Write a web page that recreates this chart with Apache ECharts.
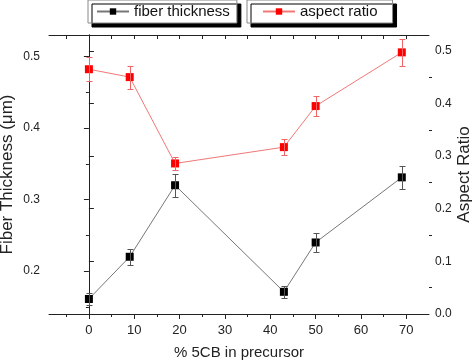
<!DOCTYPE html>
<html>
<head>
<meta charset="utf-8">
<script src="https://cdn.jsdelivr.net/npm/echarts@6/dist/echarts.min.js"></script>
<style>html,body{margin:0;padding:0;background:#fff;}#c{width:474px;height:361px;}</style>
</head>
<body>
<div id="c"></div>
<script>
const precursor = [0, 9, 19, 43, 50, 69];
const thickness = [0.161, 0.22, 0.32, 0.171, 0.24, 0.331];
const thicknessErr = [0.008, 0.011, 0.016, 0.008, 0.013, 0.016];
const aspect = [0.465, 0.45, 0.286, 0.317, 0.395, 0.497];
const aspectErr = [0.023, 0.022, 0.013, 0.015, 0.019, 0.025];
const xLabels = [0, 10, 20, 30, 40, 50, 60, 70];
const xMinor = [-5, 5, 15, 25, 35, 45, 55, 65];
const xTop = [-5, 0, 5, 10, 15, 20, 25, 30, 35, 40, 45, 50, 55, 60, 65, 70];
const leftLabels = [0.2, 0.3, 0.4, 0.5];
const leftMinor = [0.15, 0.25, 0.35, 0.45];
const rightLabels = [0, 0.1, 0.2, 0.3, 0.4, 0.5];
const rightMinor = [0.05, 0.15, 0.25, 0.35, 0.45];

const FONT = 'Liberation Sans';
const chart = echarts.init(document.getElementById('c'), null, {renderer: 'canvas'});

function errSeries(vals, errs, yIdx, color) {
  return {
    type: 'custom',
    xAxisIndex: 0,
    yAxisIndex: yIdx,
    silent: true,
    z: 4,
    clip: false,
    data: precursor.map((x, i) => [x, vals[i] - errs[i], vals[i] + errs[i]]),
    renderItem: function (params, api) {
      const lo = api.coord([api.value(0), api.value(1)]);
      const hi = api.coord([api.value(0), api.value(2)]);
      const cx = Math.round(lo[0]) + 0.5;
      const yl = Math.round(lo[1]) + 0.5;
      const yh = Math.round(hi[1]) + 0.5;
      const w = 3;
      const st = {stroke: color, lineWidth: 1};
      return {
        type: 'group',
        children: [
          {type: 'line', shape: {x1: cx, y1: yl, x2: cx, y2: yh}, style: st},
          {type: 'line', shape: {x1: cx - w, y1: yl, x2: cx + w, y2: yl}, style: st},
          {type: 'line', shape: {x1: cx - w, y1: yh, x2: cx + w, y2: yh}, style: st}
        ]
      };
    }
  };
}

const legendCommon = {
  top: 0,
  orient: 'horizontal',
  itemWidth: 32,
  itemHeight: 8,
  backgroundColor: '#fff',
  borderColor: '#888',
  borderWidth: 1,
  borderRadius: 0,
  shadowColor: '#000',
  shadowOffsetX: 4,
  shadowOffsetY: 4,
  shadowBlur: 0,
  textStyle: {fontFamily: FONT, fontSize: 15, color: '#111'}
};

const option = {
  animation: false,
  backgroundColor: '#fff',
  textStyle: {fontFamily: FONT},
  legend: [
    Object.assign({}, legendCommon, {left: 88, padding: [4, 7, 4, 8], data: ['fiber thickness']}),
    Object.assign({}, legendCommon, {left: 247, padding: [4, 15, 4, 15], data: ['aspect ratio']})
  ],
  grid: {left: 49, right: 45, top: 35, bottom: 47, containLabel: false, outerBoundsMode: 'none'},
  xAxis: [
    {
      type: 'value', position: 'bottom', min: -8.8, max: 75,
      axisLine: {show: true, lineStyle: {color: '#222', width: 1}},
      axisTick: {show: true, inside: false, length: 5, customValues: xLabels, lineStyle: {color: '#222'}},
      axisLabel: {customValues: xLabels, fontSize: 13, color: '#222', margin: 10, fontFamily: FONT},
      splitLine: {show: false},
      name: '% 5CB in precursor', nameLocation: 'middle', nameGap: 31, nameMoveOverlap: false,
      nameTextStyle: {fontSize: 15, color: '#222', fontFamily: FONT}
    },
    {
      type: 'value', position: 'bottom', min: -8.8, max: 75,
      axisLine: {show: false},
      axisTick: {show: true, inside: false, length: 3, customValues: xMinor, lineStyle: {color: '#222'}},
      axisLabel: {show: false},
      splitLine: {show: false}
    },
    {
      type: 'value', position: 'top', min: -8.8, max: 75,
      axisLine: {show: true, lineStyle: {color: '#222', width: 1}},
      axisTick: {show: true, inside: true, length: 4, customValues: xTop, lineStyle: {color: '#222'}},
      axisLabel: {show: false},
      splitLine: {show: false}
    }
  ],
  yAxis: [
    {
      type: 'value', position: 'left', min: 0.14, max: 0.53,
      axisLine: {show: true, lineStyle: {color: '#222', width: 1}},
      axisTick: {show: true, inside: false, length: 5, customValues: leftLabels, lineStyle: {color: '#222'}},
      axisLabel: {customValues: leftLabels, fontSize: 12, color: '#222', margin: 9, fontFamily: FONT,
        formatter: v => v.toFixed(1)},
      splitLine: {show: false},
      name: 'Fiber Thickness (\u03bcm)', nameLocation: 'middle', nameGap: 33, nameMoveOverlap: false,
      nameTextStyle: {fontSize: 17, color: '#222', fontFamily: FONT}
    },
    {
      type: 'value', position: 'left', min: 0.14, max: 0.53,
      axisLine: {show: false},
      axisTick: {show: true, inside: false, length: 3, customValues: leftMinor, lineStyle: {color: '#222'}},
      axisLabel: {show: false},
      splitLine: {show: false}
    },
    {
      type: 'value', position: 'right', min: 0, max: 0.53,
      axisLine: {show: true, lineStyle: {color: '#222', width: 1}},
      axisTick: {show: true, inside: false, length: 5, customValues: rightLabels, lineStyle: {color: '#222'}},
      axisLabel: {customValues: rightLabels, fontSize: 12, color: '#222', margin: 6, fontFamily: FONT,
        formatter: v => v.toFixed(1)},
      splitLine: {show: false},
      name: 'Aspect Ratio', nameLocation: 'middle', nameGap: 27, nameMoveOverlap: false,
      nameTextStyle: {fontSize: 17, color: '#222', fontFamily: FONT}
    },
    {
      type: 'value', position: 'right', min: 0, max: 0.53,
      axisLine: {show: false},
      axisTick: {show: true, inside: false, length: 3, customValues: rightMinor, lineStyle: {color: '#222'}},
      axisLabel: {show: false},
      splitLine: {show: false}
    }
  ],
  series: [
    {
      name: 'fiber thickness', type: 'line', xAxisIndex: 0, yAxisIndex: 0, z: 3,
      data: precursor.map((x, i) => [x, thickness[i]]),
      symbol: 'rect', symbolSize: 8,
      itemStyle: {color: '#000'},
      lineStyle: {color: '#777', width: 1}
    },
    {
      name: 'aspect ratio', type: 'line', xAxisIndex: 0, yAxisIndex: 2, z: 3,
      data: precursor.map((x, i) => [x, aspect[i]]),
      symbol: 'rect', symbolSize: 8,
      itemStyle: {color: '#ff0000'},
      lineStyle: {color: '#f07878', width: 1}
    },
    errSeries(thickness, thicknessErr, 0, '#555'),
    errSeries(aspect, aspectErr, 2, '#ee6666')
  ]
};
chart.setOption(option);
</script>
</body>
</html>
